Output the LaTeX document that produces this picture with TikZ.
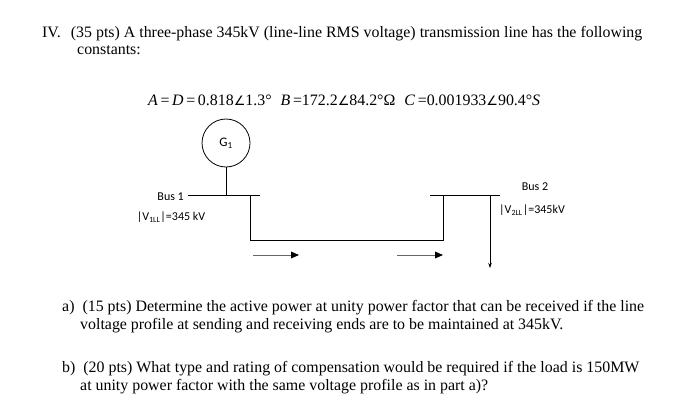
\documentclass[tikz,border=0pt]{standalone}
\usepackage{fontspec}
\setmainfont{Liberation Serif}
\newfontfamily\calfnt{Carlito}
\newfontfamily\symfnt{DejaVu Sans}
\usetikzlibrary{arrows.meta}
\begin{document}
\begin{tikzpicture}[x=1pt,y=-1pt,
 txt/.style={anchor=base west,inner sep=0,font=\fontsize{15.9}{18}\selectfont},
 lab/.style={inner sep=0,font=\calfnt\fontsize{12}{14}\selectfont},
 ln/.style={line width=0.8pt}]
\useasboundingbox[fill=white] (0,0) rectangle (692,407);
\node[txt] (t1) at (42,37) {IV.\hspace{10pt}(35 pts) A three-phase 345kV (line-line RMS voltage) transmission line has the following};
\node[txt] (t2) at (77,54) {constants:};
\node[txt] (eq) at (148,105) {\textit{A}\,=\,\textit{D}\,=\,0.818{\symfnt\fontsize{13}{14}\selectfont∠}1.3°\hspace{9pt}\textit{B}\,=172.2{\symfnt\fontsize{13}{14}\selectfont∠}84.2°Ω\hspace{9pt}\textit{C}\,=0.001933{\symfnt\fontsize{13}{14}\selectfont∠}90.4°\textit{S}};
\node[txt] (a1) at (62,311) {a)\hspace{8pt}(15 pts) Determine the active power at unity power factor that can be received if the line};
\node[txt] (a2) at (80,329) {voltage profile at sending and receiving ends are to be maintained at 345kV.};
\node[txt] (b1) at (62,372) {b)\hspace{8pt}(20 pts) What type and rating of compensation would be required if the load is 150MW};
\node[txt] (b2) at (80,390) {at unity power factor with the same voltage profile as in part a)?};
% diagram
\node[circle,draw,line width=0.8pt,minimum size=48pt,inner sep=0] (g) at (226,143) {};
\node[lab,font=\calfnt\fontsize{13}{14}\selectfont] (gl) at (226,143) {G\textsubscript{1}};
\coordinate (b1l) at (188,195); \coordinate (b1r) at (260,195);
\coordinate (b2l) at (430,195); \coordinate (b2r) at (500,195);
\coordinate (g1) at (226,195);
\draw[ln] (b1l) -- (b1r);
\draw[ln] (b2l) -- (b2r);
\draw[ln] (g.south) -- (g1);
\coordinate (d1) at (250,195); \coordinate (d2) at (443,195);
\draw[ln] (d1) -- (250,240) -- (443,240) -- (d2);
\coordinate (ld1) at (490,195); \coordinate (ld2) at (490,268);
\draw[line width=0.7pt,-{Stealth[length=5pt,width=3.5pt]}] (ld1) -- (ld2);
\coordinate (f1a) at (253,255); \coordinate (f1b) at (296,255);
\coordinate (f2a) at (397,255); \coordinate (f2b) at (440,255);
\draw[line width=0.9pt,black!60] (f1a) -- (f1b); \fill (f1b) ++(3,0) -- ++(-8,-3.5) -- ++(0,7) -- cycle;
\draw[line width=0.9pt,black!60] (f2a) -- (f2b); \fill (f2b) ++(3,0) -- ++(-8,-3.5) -- ++(0,7) -- cycle;
\node[lab,anchor=east] (bus1) at (184,197) {Bus 1};
\node[lab] (v1) at (171,217) {|V\textsubscript{1LL}|=345 kV};
\node[lab] (bus2) at (535,187) {Bus 2};
\node[lab] (v2) at (532,210) {|V\textsubscript{2LL}|=345kV};
\end{tikzpicture}
\end{document}
